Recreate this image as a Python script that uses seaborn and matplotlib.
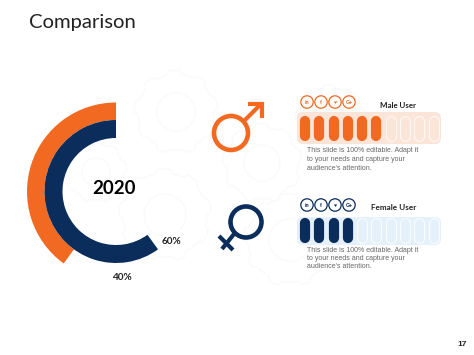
import numpy as np
import pandas as pd
import matplotlib
matplotlib.use("Agg")
import matplotlib.pyplot as plt
from matplotlib.patches import Circle, FancyBboxPatch, Polygon
import seaborn as sns

# ---- data ----
year_label = "2020"
female_share = 40
male_share = 60
share_labels = ["40%", "60%"]
pill_total = 10
male_filled = 6
female_filled = 4
social_icons = ["in", "f", "♥", "G+"]
body_lines = ["This slide is 100% editable. Adapt it",
              "to your needs and capture your",
              "audience's attention."]

ORANGE = "#F26A21"
NAVY = "#0A2D5C"
W, H = 474, 355
sns.set_theme(style="white", rc={"axes.facecolor": "white", "figure.facecolor": "white"})
plt.rcParams["font.family"] = ["Liberation Sans", "DejaVu Sans"]

fig = plt.figure(figsize=(W / 100, H / 100), dpi=100)
ax = fig.add_axes([0, 0, 1, 1])

def Y(py):
    return H - py

# faint background gears
def gear(cx, cy, r, teeth=9):
    ang = np.linspace(0, 2 * np.pi, teeth * 8, endpoint=False)
    rr = r * (1 + 0.10 * (np.sin(ang * teeth) > 0))
    pts = np.c_[cx + rr * np.cos(ang), Y(cy) + rr * np.sin(ang)]
    ax.add_patch(Polygon(pts, closed=True, fill=False, ec="#FAFAFA", lw=1.0, zorder=0))
    ax.add_patch(Circle((cx, Y(cy)), r * 0.5, fill=False, ec="#FAFAFA", lw=1.0, zorder=0))

gear(176, 112, 38)
gear(96, 172, 28)
gear(262, 163, 36)
gear(330, 120, 32)
gear(290, 240, 42)
gear(165, 215, 42)

# donut
cx, cy = 116, 191.5
ax.pie([female_share, 100 - female_share], radius=89, center=(cx, Y(cy)), startangle=90,
       colors=[ORANGE, "none"], wedgeprops=dict(width=17.5, lw=0))
ax.pie([male_share, 100 - male_share], radius=71.5, center=(cx, Y(cy)), startangle=90,
       colors=[NAVY, "none"], wedgeprops=dict(width=18, lw=0))
ax.set_xlim(0, W)
ax.set_ylim(0, H)
ax.set_aspect("equal")
ax.axis("off")

ax.text(114, Y(188), year_label, fontsize=13.5, fontweight="bold", color="black",
        ha="center", va="center", family=["Lato", "DejaVu Sans"])
ax.text(172, Y(241.5), share_labels[1], fontsize=7.2, fontweight="bold", color="#222222",
        ha="center", va="center", family=["Lato", "DejaVu Sans"])
ax.text(122, Y(278), share_labels[0], fontsize=7.2, fontweight="bold", color="#222222",
        ha="center", va="center", family=["Lato", "DejaVu Sans"])
ax.text(29, Y(28), "Comparison", fontsize=14.6, color="#222222", ha="left", va="baseline",
        family=["Lato", "DejaVu Sans"])
ax.text(462, Y(344.5), "17", fontsize=6, fontweight="bold", color="#222222", ha="center", va="center")

# pills
def pills(filled, total, top, bottom, track_top, track_bottom, track, color):
    ax.add_patch(FancyBboxPatch((297 + 6, Y(track_bottom) + 6), 144 - 12, track_bottom - track_top - 12,
                                boxstyle="round,pad=6", fc=track, ec="none", zorder=1))
    xs = 305 + 14.3 * np.arange(total)
    pw = 10.2
    lw = pw * 0.72
    r = pw / 2
    rows = []
    for i, x in enumerate(xs):
        rows += [dict(x=x, y=Y(top + r), pill=i), dict(x=x, y=Y(bottom - r), pill=i)]
    df = pd.DataFrame(rows)
    fill_df = df[df.pill < filled]
    empty_df = df[df.pill >= filled]
    sns.lineplot(data=empty_df, x="x", y="y", units="pill", estimator=None, sort=False, ax=ax,
                 color="white", lw=lw + 0.6, solid_capstyle="round", zorder=2, alpha=0.8)
    sns.lineplot(data=empty_df, x="x", y="y", units="pill", estimator=None, sort=False, ax=ax,
                 color=track, lw=lw - 1.0, solid_capstyle="round", zorder=3)
    sns.lineplot(data=fill_df, x="x", y="y", units="pill", estimator=None, sort=False, ax=ax,
                 color=color, lw=lw, solid_capstyle="round", zorder=4)

pills(male_filled, pill_total, 116, 141, 112, 144, "#FBE4D8", ORANGE)
pills(female_filled, pill_total, 218, 243, 217, 245, "#E4F1FB", NAVY)

# social icons
def icons(y, color):
    for x, s in zip([307, 321, 335, 349], social_icons):
        ax.add_patch(Circle((x, Y(y)), 6.2, fc="white", ec=color, lw=0.9, zorder=5))
        ax.text(x, Y(y) - 0.2, s, fontsize=3.8, fontweight="bold", color=color, ha="center", va="center",
                zorder=6, family=["Liberation Sans", "DejaVu Sans"])

icons(102, ORANGE)
icons(205, NAVY)

ax.text(416, Y(105), "Male User", fontsize=5.7, fontweight="bold", color="#222222", ha="right", va="center",
        family=["Lato", "DejaVu Sans"])
ax.text(416, Y(207), "Female User", fontsize=5.9, fontweight="bold", color="#222222", ha="right", va="center",
        family=["Lato", "DejaVu Sans"])

for ys in ([151, 159.5, 168], [251, 259, 267]):
    for y, s in zip(ys, body_lines):
        ax.text(307, Y(y), s, fontsize=5.0, color="#666666", ha="left", va="center")

# male symbol
ax.add_patch(Circle((231, Y(133)), 17, fc="none", ec=ORANGE, lw=3.3, zorder=5))
sns.lineplot(x=[244, 260], y=[Y(121), Y(105)], sort=False, estimator=None, ax=ax, color=ORANGE, lw=3.0,
             solid_capstyle="butt", zorder=5)
sns.lineplot(x=[248, 262, 262], y=[Y(104), Y(104), Y(118)], sort=False, estimator=None, ax=ax, color=ORANGE,
             lw=3.0, solid_joinstyle="miter", solid_capstyle="butt", zorder=5)

# female symbol
ax.add_patch(Circle((246, Y(222)), 15.5, fc="none", ec=NAVY, lw=3.3, zorder=5))
sns.lineplot(x=[234, 222], y=[Y(234), Y(249)], sort=False, estimator=None, ax=ax, color=NAVY, lw=3.0, zorder=5,
             solid_capstyle="butt")
sns.lineplot(x=[219, 233], y=[Y(236), Y(250)], sort=False, estimator=None, ax=ax, color=NAVY, lw=3.0, zorder=5,
             solid_capstyle="butt")

ax.set_xlim(0, W)
ax.set_ylim(0, H)
ax.axis("off")
if ax.get_legend():
    ax.get_legend().remove()
fig.savefig("out.png", dpi=100)
